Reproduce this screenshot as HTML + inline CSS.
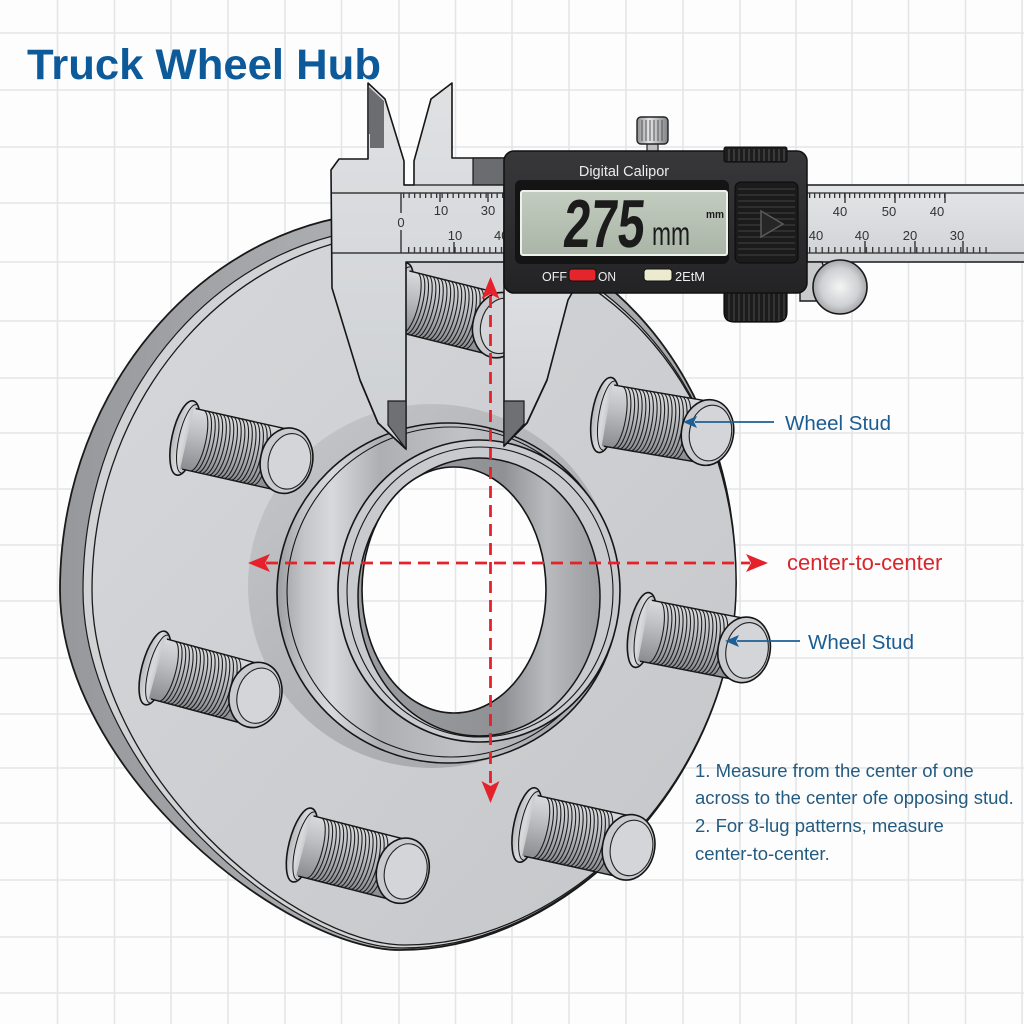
<!DOCTYPE html>
<html><head><meta charset="utf-8"><style>
html,body{margin:0;padding:0;background:#fff;}
svg{display:block;}
</style></head><body>
<svg width="1024" height="1024" viewBox="0 0 1024 1024" xmlns="http://www.w3.org/2000/svg" font-family="'Liberation Sans', Arial, sans-serif">
<defs>
  <linearGradient id="faceG" x1="0" y1="0" x2="1" y2="1"><stop offset="0" stop-color="#d6d8db"/><stop offset="1" stop-color="#c4c6c9"/></linearGradient>
  <linearGradient id="rimG" x1="0" y1="0" x2="1" y2="0"><stop offset="0" stop-color="#96989c"/><stop offset="0.5" stop-color="#b0b2b5"/><stop offset="1" stop-color="#a5a7aa"/></linearGradient>
  <linearGradient id="shadowG" x1="0" y1="0" x2="1" y2="1"><stop offset="0" stop-color="#c6c8cb"/><stop offset="0.5" stop-color="#b2b4b7"/><stop offset="1" stop-color="#a0a2a5"/></linearGradient>
  <linearGradient id="cylG" x1="0" y1="0" x2="1" y2="0"><stop offset="0" stop-color="#9c9ea1"/><stop offset="0.08" stop-color="#c3c5c8"/><stop offset="0.16" stop-color="#d8d9dc"/><stop offset="0.3" stop-color="#adafb2"/><stop offset="0.55" stop-color="#c0c2c5"/><stop offset="0.8" stop-color="#a7a9ac"/><stop offset="1" stop-color="#bcbec1"/></linearGradient>
  <linearGradient id="boreG" x1="0" y1="0" x2="1" y2="0"><stop offset="0" stop-color="#9a9ca0"/><stop offset="0.6" stop-color="#8f9195"/><stop offset="0.78" stop-color="#b9bbbe"/><stop offset="0.92" stop-color="#a4a6a9"/><stop offset="1" stop-color="#9a9c9f"/></linearGradient>
  <linearGradient id="collarG" x1="0" y1="0" x2="1" y2="0"><stop offset="0" stop-color="#b5b7ba"/><stop offset="0.4" stop-color="#d9dadc"/><stop offset="1" stop-color="#a5a7aa"/></linearGradient>
  <linearGradient id="threadG" x1="0" y1="0" x2="0" y2="1"><stop offset="0" stop-color="#d9dadc"/><stop offset="0.4" stop-color="#bcbec1"/><stop offset="1" stop-color="#8a8c8f"/></linearGradient>
  <linearGradient id="steelG" x1="0" y1="0" x2="0" y2="1"><stop offset="0" stop-color="#dfe1e3"/><stop offset="1" stop-color="#cdd0d3"/></linearGradient>
  <linearGradient id="beamG" x1="0" y1="0" x2="0" y2="1"><stop offset="0" stop-color="#e3e5e7"/><stop offset="1" stop-color="#d0d2d5"/></linearGradient>
  <linearGradient id="bodyG" x1="0" y1="0" x2="0" y2="1"><stop offset="0" stop-color="#38383a"/><stop offset="1" stop-color="#232325"/></linearGradient>
  <linearGradient id="lcdG" x1="0" y1="0" x2="0" y2="1"><stop offset="0" stop-color="#c2ccbf"/><stop offset="1" stop-color="#aab5a8"/></linearGradient>
  <linearGradient id="knobG" x1="0" y1="0" x2="1" y2="0"><stop offset="0" stop-color="#8c8e91"/><stop offset="0.4" stop-color="#e6e7e8"/><stop offset="1" stop-color="#7f8184"/></linearGradient>
  <radialGradient id="rollG" cx="0.5" cy="0.5" r="0.5"><stop offset="0" stop-color="#f4f4f4"/><stop offset="0.7" stop-color="#cfd0d2"/><stop offset="1" stop-color="#a5a7aa"/></radialGradient>
  <pattern id="tickRT" x="809" y="0" width="5" height="20" patternUnits="userSpaceOnUse"><rect x="0" y="0" width="1.3" height="20" fill="#333"/></pattern>
  <pattern id="tickRB" x="809" y="0" width="6.3" height="20" patternUnits="userSpaceOnUse"><rect x="0" y="0" width="1.3" height="20" fill="#333"/></pattern>
  <pattern id="tickLT" x="403" y="0" width="5.5" height="20" patternUnits="userSpaceOnUse"><rect x="0" y="0" width="1.3" height="20" fill="#333"/></pattern>
  <pattern id="tickLB" x="408" y="0" width="5.8" height="20" patternUnits="userSpaceOnUse"><rect x="0" y="0" width="1.3" height="20" fill="#333"/></pattern>
  <clipPath id="holeClip"><ellipse cx="454" cy="590" rx="92" ry="123"/></clipPath>

  <g id="grid" stroke="#e4e5e7" stroke-width="1.6" fill="none">
    <path d="M57.5,0V1024M114.5,0V1024M171,0V1024M228,0V1024M285,0V1024M341.5,0V1024M399,0V1024M455.5,0V1024M512,0V1024M569,0V1024M626,0V1024M683,0V1024M740,0V1024M796,0V1024M852,0V1024M908.5,0V1024M965.5,0V1024M1022,0V1024"/>
    <path d="M0,33H1024M0,90H1024M0,147H1024M0,203H1024M0,262H1024M0,321H1024M0,378H1024M0,433H1024M0,489H1024M0,545H1024M0,601H1024M0,658H1024M0,714H1024M0,768H1024M0,823H1024M0,880H1024M0,937H1024M0,993H1024"/>
  </g>

  <g id="stud">
    <ellipse cx="0" cy="0" rx="13" ry="38" fill="url(#collarG)" stroke="#151515" stroke-width="1.6"/>
    <path d="M4,-35 a10,35 0 0 0 0,70" fill="none" stroke="#151515" stroke-width="1"/>
    <rect x="2" y="-31" width="102" height="62" fill="url(#threadG)"/>
    <path d="M4,-31H104M4,31H104" stroke="#151515" stroke-width="1.4"/>
    <path d="M12,-31a9,31 0 0 1 0,62M15.8,-31a9,31 0 0 1 0,62M19.6,-31a9,31 0 0 1 0,62M23.4,-31a9,31 0 0 1 0,62M27.2,-31a9,31 0 0 1 0,62M31,-31a9,31 0 0 1 0,62M34.8,-31a9,31 0 0 1 0,62M38.6,-31a9,31 0 0 1 0,62M42.4,-31a9,31 0 0 1 0,62M46.2,-31a9,31 0 0 1 0,62M50,-31a9,31 0 0 1 0,62M53.8,-31a9,31 0 0 1 0,62M57.6,-31a9,31 0 0 1 0,62M61.4,-31a9,31 0 0 1 0,62M65.2,-31a9,31 0 0 1 0,62M69,-31a9,31 0 0 1 0,62M72.8,-31a9,31 0 0 1 0,62M76.6,-31a9,31 0 0 1 0,62" fill="none" stroke="#1e1e1e" stroke-width="1.1"/>
    <ellipse cx="104" cy="0" rx="26" ry="33" fill="#c8cacd" stroke="#151515" stroke-width="1.6"/>
    <ellipse cx="107" cy="0" rx="21" ry="28" fill="#d3d5d8" stroke="#222" stroke-width="1.1"/>
  </g>
</defs>

<!-- background -->
<rect x="0" y="0" width="1024" height="1024" fill="#fdfdfd"/>
<use href="#grid"/>

<!-- title -->
<text x="27" y="79" font-size="43" font-weight="bold" fill="#0d5a9a" textLength="354" lengthAdjust="spacingAndGlyphs">Truck Wheel Hub</text>

<!-- disc -->
<path d="M60,590 C60,385 211,212 398,212 C594,212 736,370 736,583 C736,770 575,950 400,950 C285,950 60,770 60,590 Z" fill="url(#rimG)" stroke="#1a1a1a" stroke-width="1.8"/>
<path d="M83,590 C83,390 225,227 405,227 C594,227 736,376 736,583 C736,769 576,948 402,948 C290,948 83,772 83,590 Z" fill="#d0d2d4" stroke="#1a1a1a" stroke-width="1.2"/>
<path d="M92,590 C92,395 236,233 410,233 C596,233 736,380 736,583 C736,768 577,945 405,945 C295,945 92,775 92,590 Z" fill="url(#faceG)" stroke="#1a1a1a" stroke-width="1.3"/>

<!-- hub -->
<ellipse cx="432" cy="586" rx="184" ry="182" fill="url(#shadowG)"/>
<ellipse cx="448" cy="593" rx="171" ry="170" fill="url(#cylG)" stroke="#161616" stroke-width="1.6"/>
<ellipse cx="451" cy="592" rx="164" ry="165" fill="none" stroke="#161616" stroke-width="1.1"/>
<ellipse cx="479" cy="591" rx="141" ry="151" fill="#c8cacd" stroke="#161616" stroke-width="1.6"/>
<ellipse cx="480" cy="592" rx="133" ry="145" fill="none" stroke="#161616" stroke-width="1.1"/>
<ellipse cx="479" cy="597" rx="121" ry="139" fill="url(#boreG)" stroke="#161616" stroke-width="1.5"/>
<g clip-path="url(#holeClip)">
  <rect x="300" y="400" width="300" height="400" fill="#fdfdfd"/>
  <use href="#grid"/>
</g>
<ellipse cx="454" cy="590" rx="92" ry="123" fill="none" stroke="#161616" stroke-width="1.6"/>

<!-- studs -->
<use href="#stud" transform="translate(398,300) rotate(14)"/>
<use href="#stud" transform="translate(185,438) rotate(12.6)"/>
<use href="#stud" transform="translate(155,668) rotate(15)"/>
<use href="#stud" transform="translate(302,845) rotate(14.3)"/>
<use href="#stud" transform="translate(605,415) rotate(9.7)"/>
<use href="#stud" transform="translate(642,630) rotate(11)"/>
<use href="#stud" transform="translate(527,825) rotate(12.4)"/>

<!-- caliper: right beam -->
<rect x="807" y="185" width="230" height="77" fill="url(#beamG)" stroke="#1a1a1a" stroke-width="1.5"/>
<path d="M807,193H1024M807,253H1024" stroke="#2a2a2a" stroke-width="1.2"/>
<rect x="809" y="193" width="139" height="5" fill="url(#tickRT)"/>
<path d="M845,193v10M895,193v10M945,193v10" stroke="#333" stroke-width="1.4"/>
<rect x="809" y="247" width="180" height="6" fill="url(#tickRB)"/>
<path d="M865,253v-12M915,253v-12M963,253v-12" stroke="#333" stroke-width="1.4"/>
<g font-size="13" fill="#333" text-anchor="middle">
  <text x="840" y="216">40</text><text x="889" y="216">50</text><text x="937" y="216">40</text>
  <text x="816" y="240">40</text><text x="862" y="240">40</text><text x="910" y="240">20</text><text x="957" y="240">30</text>
</g>

<!-- roller -->
<path d="M800,262 L822,262 L830,285 L822,301 L800,301 Z" fill="#c8cacc" stroke="#1a1a1a" stroke-width="1.4"/>
<circle cx="840" cy="287" r="27" fill="url(#rollG)" stroke="#1a1a1a" stroke-width="1.6"/>

<!-- fixed jaw / body -->
<path d="M331,170 L339,159 L368,159 L368,83 L385,99 L404,161 L404,185 L414,185 L414,161 L431,99 L452,83 L452,158 L504,158 L504,262 L406,262 L406,449 L378,423 L360,380 L332,288 Z" fill="url(#steelG)" stroke="#161616" stroke-width="1.6" stroke-linejoin="round"/>
<path d="M369,87 L384,101 L384,148 L370,148 L370,134 L369,134 Z" fill="#6b6d70"/>
<rect x="473" y="158" width="31" height="27" fill="#6a6c6f" stroke="#161616" stroke-width="1.2"/>
<path d="M331,193H504M331,253H504M404,185H504" stroke="#1a1a1a" stroke-width="1.3"/>
<rect x="403" y="193" width="101" height="5" fill="url(#tickLT)"/>
<path d="M440,193v9M488,193v9M401,193v20M401,230v23M454,253v-11" stroke="#333" stroke-width="1.4"/>
<rect x="408" y="247" width="96" height="6" fill="url(#tickLB)"/>
<g font-size="13" fill="#333">
  <text x="441" y="215" text-anchor="middle">10</text><text x="488" y="215" text-anchor="middle">30</text>
  <text x="455" y="240" text-anchor="middle">10</text><text x="494" y="240">40</text>
  <text x="401" y="227" text-anchor="middle">0</text>
</g>

<!-- right jaw -->
<path d="M504,262 L572,262 L572,293 L568,300 L547,380 L527,423 L504,446 Z" fill="url(#steelG)" stroke="#161616" stroke-width="1.6" stroke-linejoin="round"/>
<!-- jaw tips -->
<path d="M388,401 L406,401 L406,449 L388,425 Z" fill="#6e7073" stroke="#1a1a1a" stroke-width="1.2"/>
<path d="M504,401 L524,401 L524,424 L504,446 Z" fill="#6e7073" stroke="#1a1a1a" stroke-width="1.2"/>
<path d="M360,380 L378,423 L406,449 M547,380 L527,423 L504,446" fill="none" stroke="#161616" stroke-width="1.6"/>

<!-- knob -->
<rect x="647" y="143" width="11" height="10" fill="#bdbfc1" stroke="#222" stroke-width="1.2"/>
<rect x="637" y="117" width="31" height="27" rx="4" fill="url(#knobG)" stroke="#222" stroke-width="1.4"/>
<path d="M642,120v21M646,120v21M650,120v21M654,120v21M658,120v21M662,120v21" stroke="#555" stroke-width="1"/>

<!-- display body -->
<path d="M724,288 L787,288 L787,312 Q787,322 777,322 L734,322 Q724,322 724,312 Z" fill="#1c1c1c" stroke="#0a0a0a" stroke-width="1.2"/>
<path d="M729,293v27M734,293v28M739,293v28M744,293v28M749,293v28M754,293v28M759,293v28M764,293v28M769,293v28M774,293v28M779,293v28M784,293v26" stroke="#3e3e3e" stroke-width="1.4"/>
<rect x="504" y="151" width="303" height="142" rx="10" fill="url(#bodyG)" stroke="#111" stroke-width="1.5"/>
<rect x="724" y="147" width="63" height="15" rx="2" fill="#1d1d1d" stroke="#0a0a0a"/>
<path d="M729,149v12M734,149v12M739,149v12M744,149v12M749,149v12M754,149v12M759,149v12M764,149v12M769,149v12M774,149v12M779,149v12M784,149v12" stroke="#4a4a4a" stroke-width="1.3"/>
<text x="624" y="176" font-size="14.5" fill="#ececec" text-anchor="middle">Digital Calipor</text>

<rect x="515" y="180" width="214" height="84" rx="6" fill="#141414"/>
<rect x="521" y="191" width="206" height="64" rx="2" fill="url(#lcdG)" stroke="#eef2ec" stroke-width="2"/>
<text transform="translate(562,247) skewX(-5)" font-size="68" font-weight="bold" fill="#1b1b1b" textLength="81" lengthAdjust="spacingAndGlyphs">275</text>
<text x="652" y="245" font-size="33" fill="#1b1b1b" textLength="38" lengthAdjust="spacingAndGlyphs">mm</text>
<text x="706" y="218" font-size="11" font-weight="bold" fill="#1b1b1b" textLength="18" lengthAdjust="spacingAndGlyphs">mm</text>

<rect x="735" y="182" width="63" height="81" rx="6" fill="#1b1b1b" stroke="#0a0a0a"/>
<path d="M738,189H795M738,195H795M738,201H795M738,207H795M738,213H795M738,219H795M738,225H795M738,231H795M738,237H795M738,243H795M738,249H795M738,255H795" stroke="#2f2f2f" stroke-width="2"/>
<polygon points="761,211 783,224 761,237" fill="#262626" stroke="#5a5a5a" stroke-width="1.5"/>

<text x="542" y="281" font-size="13" fill="#eeeeee" textLength="25" lengthAdjust="spacingAndGlyphs">OFF</text>
<rect x="569" y="269" width="27" height="12" rx="3" fill="#e3262c" stroke="#111" stroke-width="1"/>
<text x="598" y="281" font-size="13" fill="#eeeeee" textLength="18" lengthAdjust="spacingAndGlyphs">ON</text>
<rect x="644" y="269" width="28" height="12" rx="3" fill="#ecebcf" stroke="#111" stroke-width="1"/>
<text x="675" y="281" font-size="13" fill="#eeeeee" textLength="30" lengthAdjust="spacingAndGlyphs">2EtM</text>

<!-- red measurement arrows -->
<g stroke="#e5222b" stroke-width="2.8" stroke-dasharray="12 7" fill="none">
  <line x1="266" y1="563" x2="750" y2="563"/>
  <line x1="490.5" y1="296" x2="490.5" y2="785"/>
</g>
<g fill="#e5222b">
  <path d="M248,563 L270,554 L265,563 L270,572 Z"/>
  <path d="M768,563 L746,554 L751,563 L746,572 Z"/>
  <path d="M490.5,277 L481.5,299 L490.5,294 L499.5,299 Z"/>
  <path d="M490.5,803 L481.5,781 L490.5,786 L499.5,781 Z"/>
</g>

<!-- labels -->
<g stroke="#1d5f94" stroke-width="1.8">
  <line x1="695" y1="422" x2="774" y2="422"/>
  <line x1="737" y1="641" x2="800" y2="641"/>
</g>
<g fill="#1d5f94">
  <path d="M683,422 L697,416 L694,422 L697,428 Z"/>
  <path d="M725,641 L739,635 L736,641 L739,647 Z"/>
</g>
<text x="785" y="430" font-size="20.5" fill="#1b5d92">Wheel Stud</text>
<text x="808" y="649" font-size="20.5" fill="#1b5d92">Wheel Stud</text>
<text x="787" y="570" font-size="22" fill="#d8262c">center-to-center</text>

<g font-size="18.5" fill="#245b80">
  <text x="695" y="777">1. Measure from the center of one</text>
  <text x="695" y="804">across to the center ofe opposing stud.</text>
  <text x="695" y="832">2. For 8-lug patterns, measure</text>
  <text x="695" y="860">center-to-center.</text>
</g>
</svg>
</body></html>
